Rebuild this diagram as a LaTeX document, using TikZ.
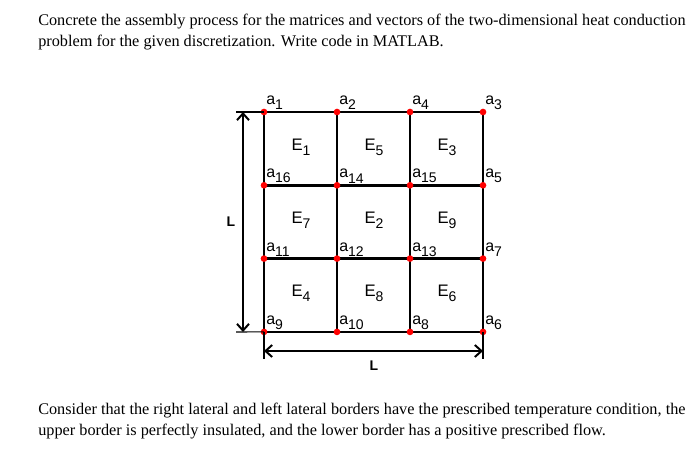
\documentclass[tikz,border=0pt]{standalone}
\usepackage{fontspec}
\setmainfont{Liberation Serif}
\newfontfamily\lab{Liberation Sans}
\newcommand\lsub[1]{\raisebox{-0.6ex}{\fontsize{10.5}{11}\selectfont #1}}
\usetikzlibrary{arrows.meta}
\begin{document}
\begin{tikzpicture}[x=0.75pt,y=-0.75pt,
  grid/.style={line width=2pt,line cap=rect},
  dot/.style={circle,fill=red,inner sep=0pt,minimum size=5pt},
  alab/.style={font=\lab\fontsize{12}{13}\selectfont,anchor=south west,inner sep=1.5pt},
  elab/.style={font=\lab\fontsize{12.5}{13}\selectfont},
  txt/.style={font=\fontsize{12.2}{15.8}\selectfont,anchor=north west,align=left,inner sep=0pt},
  dim/.style={line width=0.9pt,{Straight Barb[length=5pt,width=9pt,line width=1.5pt]}-{Straight Barb[length=5pt,width=9pt,line width=1.5pt]}}]
\useasboundingbox (0,0) rectangle (700,461);
\node[txt] (t1) at (38,14) {Concrete the assembly process for the matrices and vectors of the two-dimensional heat conduction\\problem for the given discretization. Write code in MATLAB.};
\node[txt] (t2) at (38,403) {Consider that the right lateral and left lateral borders have the prescribed temperature condition, the\\upper border is perfectly insulated, and the lower border has a positive prescribed flow.};
\foreach \i in {0,1,2,3}{\foreach \j in {0,1,2,3}{
  \coordinate (p\i\j) at ({264+73*\i},{112+73.3*\j});}}
\foreach \j in {0,1,2,3}{\draw[grid] (p0\j) -- (p3\j); \draw[grid] (p\j0) -- (p\j3);}
\foreach \i in {0,1,2,3}{\foreach \j in {0,1,2,3}{\node[dot] (d\i\j) at (p\i\j) {};}}
\node[alab] at (p00) {a\lsub{1}};
\node[alab] at (p10) {a\lsub{2}};
\node[alab] at (p20) {a\lsub{4}};
\node[alab] at (p30) {a\lsub{3}};
\node[alab] at (p01) {a\lsub{16}};
\node[alab] at (p11) {a\lsub{14}};
\node[alab] at (p21) {a\lsub{15}};
\node[alab] at (p31) {a\lsub{5}};
\node[alab] at (p02) {a\lsub{11}};
\node[alab] at (p12) {a\lsub{12}};
\node[alab] at (p22) {a\lsub{13}};
\node[alab] at (p32) {a\lsub{7}};
\node[alab] at (p03) {a\lsub{9}};
\node[alab] at (p13) {a\lsub{10}};
\node[alab] at (p23) {a\lsub{8}};
\node[alab] at (p33) {a\lsub{6}};
\node[elab] (e1) at (301,147) {E\lsub{1}};
\node[elab] (e5) at (374,147) {E\lsub{5}};
\node[elab] (e3) at (447,147) {E\lsub{3}};
\node[elab] (e7) at (301,220) {E\lsub{7}};
\node[elab] (e2) at (374,220) {E\lsub{2}};
\node[elab] (e9) at (447,220) {E\lsub{9}};
\node[elab] (e4) at (301,293) {E\lsub{4}};
\node[elab] (e8) at (374,293) {E\lsub{8}};
\node[elab] (e6) at (447,293) {E\lsub{6}};
\coordinate (vt) at (243,112); \coordinate (vb) at (243,332);
\draw[line width=0.8pt] (236,112) -- (p00);
\draw[line width=0.8pt] (236,332) -- (p03);
\draw[dim] (vt) -- (vb);
\node[font=\lab\bfseries\fontsize{10.5}{12}\selectfont] (lv) at (231,222) {L};
\coordinate (hl) at (264,351); \coordinate (hr) at (483,351);
\draw[line width=0.8pt] (p03) -- (264,359);
\draw[line width=0.8pt] (p33) -- (483,359);
\draw[dim] (hl) -- (hr);
\node[font=\lab\bfseries\fontsize{10.5}{12}\selectfont] (lh) at (374,366) {L};
\end{tikzpicture}
\end{document}
